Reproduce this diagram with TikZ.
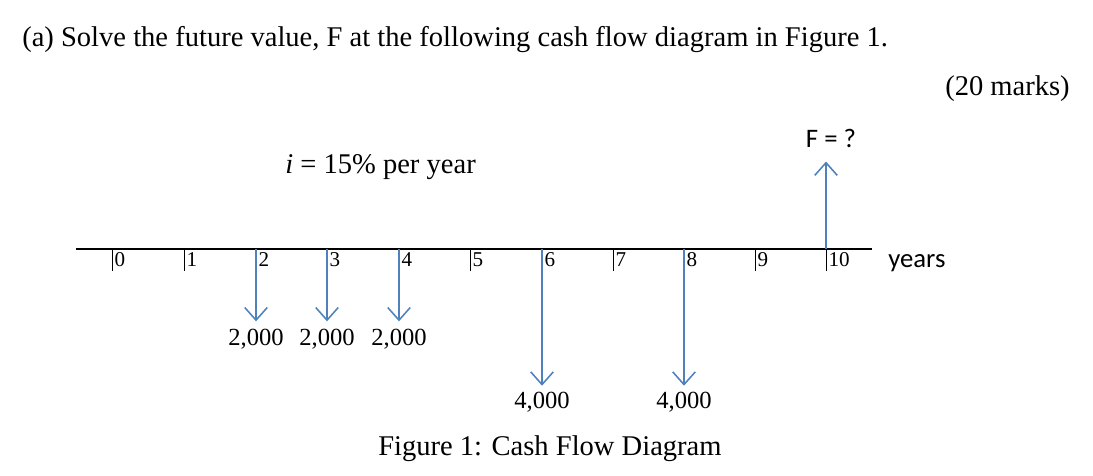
\documentclass[tikz,border=0pt]{standalone}
\usepackage{fontspec}
\setmainfont{Liberation Serif}
\newfontfamily\calib{Carlito}
\usepackage{xcolor}
\usetikzlibrary{arrows.meta}
\definecolor{flowblue}{RGB}{79,129,189}
\tikzset{
  cash/.style={draw=flowblue, line width=1.4pt, -{Straight Barb[length=9pt, width=16pt, line width=1.1pt]}},
  ticklbl/.style={anchor=north west, inner sep=1pt, font=\fontsize{15}{16}\selectfont},
  amount/.style={anchor=base, inner sep=0pt, font=\fontsize{17.5}{20}\selectfont},
  bigtxt/.style={inner sep=0pt, font=\fontsize{20.3}{24}\selectfont},
  sanstxt/.style={inner sep=0pt, font=\calib\fontsize{19}{22}\selectfont},
}
\begin{document}
\begin{tikzpicture}[x=0.025cm, y=-0.025cm]
  \useasboundingbox (0,0) rectangle (1093,475);
  % question text
  \node [bigtxt, anchor=base west] (q) at (22,46) {(a) Solve the future value, F at the following cash flow diagram in Figure 1.};
  \node [bigtxt, anchor=base east] (marks) at (1070,95) {(20 marks)};
  \node [bigtxt, anchor=base west] (rate) at (285,173) {{\itshape i} = 15\% per year};
  % time line
  \coordinate (L) at (76,249);
  \coordinate (R) at (872,249);
  \draw [line width=0.8pt] (L) -- (R);
  \foreach \n/\x in {0/112,1/184,2/256,3/327,4/399,5/470,6/542,7/613,8/684,9/755,10/826} {
    \coordinate (t\n) at (\x,249);
    \draw [line width=0.5pt] (t\n) -- ++(0,22);
    \node [ticklbl] (n\n) at (\x+1,251) {\n};
  }
  \node [sanstxt, anchor=base west] (yrs) at (888,267) {years};
  % cash flows
  \node [amount] (c2) at (256,345) {2,000};
  \node [amount] (c3) at (327,345) {2,000};
  \node [amount] (c4) at (399,345) {2,000};
  \node [amount] (c6) at (542,408) {4,000};
  \node [amount] (c8) at (684,408) {4,000};
  \draw [cash] (t2) -- ([yshift=5pt]c2.north);
  \draw [cash] (t3) -- ([yshift=5pt]c3.north);
  \draw [cash] (t4) -- ([yshift=5pt]c4.north);
  \draw [cash] (t6) -- ([yshift=4pt]c6.north);
  \draw [cash] (t8) -- ([yshift=4pt]c8.north);
  \node [sanstxt, anchor=base] (F) at (831,147) {F = ?};
  \draw [cash] (t10) -- ([yshift=-10pt]F.south -| t10);
  % caption
  \node [bigtxt, anchor=base west] (cap) at (378,455) {Figure 1: Cash Flow Diagram};
\end{tikzpicture}
\end{document}
